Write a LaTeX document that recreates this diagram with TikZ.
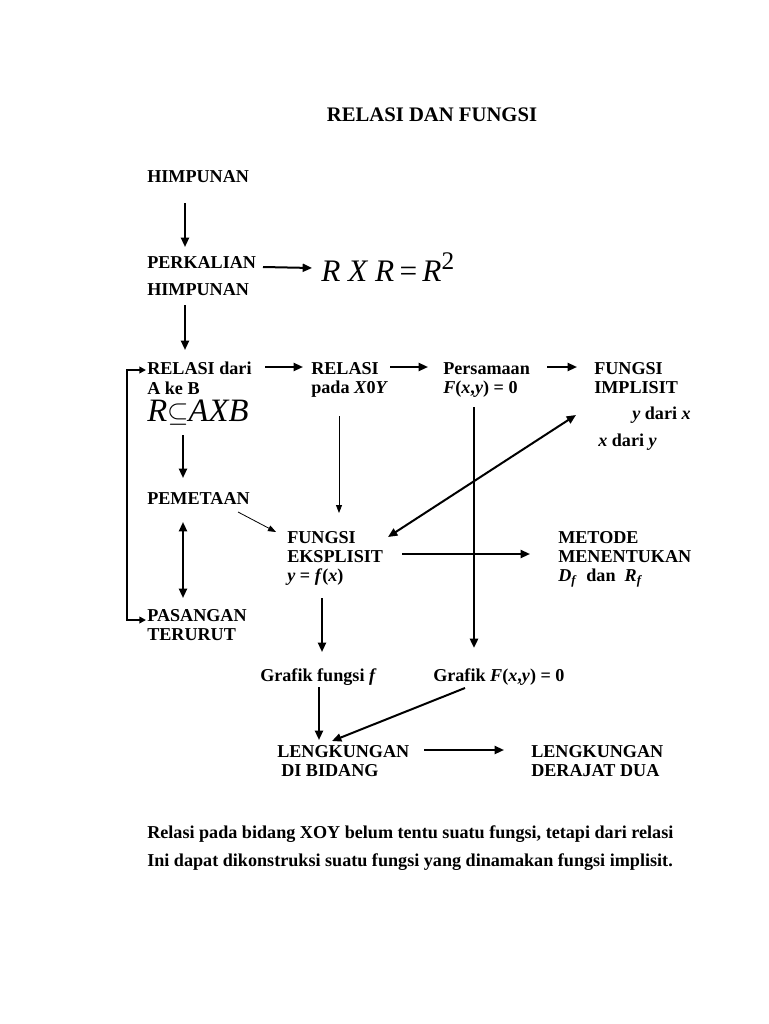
\documentclass[tikz,border=0pt]{standalone}
\usepackage{fontspec}
\setmainfont{Liberation Serif}
\usetikzlibrary{arrows.meta,calc}
\tikzset{
  lbl/.style={anchor=north west, inner sep=0pt, align=left, font=\fontsize{13.6}{14.4}\selectfont\bfseries},
  big/.style={anchor=base west, inner sep=0pt, text height=16pt, text depth=0pt, font=\fontsize{24.5}{24.5}\selectfont\itshape},
  arr/.style={line width=1.5pt, -{Triangle[length=7pt,width=6pt]}},
  thinarr/.style={line width=0.6pt, -{Triangle[length=6pt,width=4.5pt]}}
}
\begin{document}
\begin{tikzpicture}[x=0.75pt,y=-0.75pt]
  \useasboundingbox (0,0) rectangle (768,1024);

    % Title and left column
  \node[lbl, anchor=north, font=\fontsize{15.5}{16}\selectfont\bfseries] (title) at (432,108) {RELASI DAN FUNGSI};
  \node[lbl] (him) at (147,170) {HIMPUNAN};
  \node[lbl, font=\fontsize{13.6}{20.2}\selectfont\bfseries] (perk) at (147,256) {PERKALIAN\\HIMPUNAN};
  \node[big, font=\fontsize{23.5}{23.5}\selectfont\itshape] (rxr) at (321,281) {R X R\,{\upshape =}\,R\raisebox{8.5pt}{\fontsize{19}{19}\selectfont\upshape 2}};
  \node[lbl, text depth=0pt] (rel1) at (147,362) {RELASI dari\\A ke B};
  \node[big] (rsub) at (147,421) {R{\fontsize{20}{20}\selectfont$\subseteq$}AXB};
  \node[lbl] (pem) at (147,492) {PEMETAAN};
  \node[lbl] (pas) at (147,609) {PASANGAN\\TERURUT};

    % Top row
  \node[lbl] (rel2) at (311,362) {RELASI\\pada \textit{X}0\textit{Y}};
  \node[lbl] (pers) at (443,362) {Persamaan\\\textit{F}(\textit{x},\textit{y}) = 0};
  \node[lbl] (impl) at (594,362) {FUNGSI\\IMPLISIT};
  \node[lbl] (ydx) at (632,407) {\textit{y} dari \textit{x}};
  \node[lbl] (xdy) at (598,434) {\textit{x} dari \textit{y}};

    % Middle and bottom
  \node[lbl] (eks) at (287,531) {FUNGSI\\EKSPLISIT\\\textit{y} = \textit{f}(\textit{x})};
  \node[lbl] (met) at (558,531) {METODE\\MENENTUKAN\\\textit{D}\textsubscript{\textit{f}}\ \ dan \ \textit{R}\textsubscript{\textit{f}}};
  \node[lbl] (graf1) at (260,668) {Grafik fungsi \textit{f}};
  \node[lbl] (graf2) at (433,668) {Grafik \textit{F}(\textit{x},\textit{y}) = 0};
  \node[lbl] (leng1) at (277,745) {LENGKUNGAN\\\hspace*{3pt}DI BIDANG};
  \node[lbl] (leng2) at (531,745) {LENGKUNGAN\\DERAJAT DUA};
  \node[lbl, font=\fontsize{13.6}{21}\selectfont\bfseries] (note) at (147,825)
    {Relasi pada bidang XOY belum tentu suatu fungsi, tetapi dari relasi\\Ini dapat dikonstruksi suatu fungsi yang dinamakan fungsi implisit.};

    % Arrows of the left column
  \draw[arr] ($(him.north west)+(38,33)$) -- ($(perk.north west)+(38,-9)$);
  \draw[arr] ($(perk.north west)+(116,11)$) -- ($(rxr.base west)+(-9,-13)$);
  \draw[arr] ($(perk.north west)+(38,49)$) -- ($(rel1.north west)+(38,-12)$);
  \draw[arr] ($(rsub.base west)+(36,14)$) -- ($(pem.north west)+(36,-14)$);
  \draw[arr, {Triangle[length=7pt,width=6pt]}-{Triangle[length=7pt,width=6pt]}] ($(pem.north west)+(36,30)$) -- ($(pas.north west)+(36,-11)$);
  \draw[arr, {Triangle[length=5pt,width=5pt]}-{Triangle[length=5pt,width=5pt]}] ($(pas.north west)+(-1,11)$) -- ++(-19,0) |- ($(rel1.north west)+(-1,8)$);

    % Arrows of the top row
  \draw[arr] ($(rel1.north west)+(118,5)$) -- ($(rel2.north west)+(-8,5)$);
  \draw[arr] ($(rel2.north west)+(79,5)$) -- ($(pers.north west)+(-15,5)$);
  \draw[arr] ($(pers.north west)+(104,5)$) -- ($(impl.north west)+(-17,5)$);

    % Arrows to and from the explicit function
  \draw[thinarr] ($(pem.north west)+(91,20)$) -- ($(eks.north west)+(-11,1)$);
  \draw[thinarr] ($(rel2.north west)+(28,54)$) -- ($(eks.north west)+(52,-18)$);
  \draw[arr, {Triangle[length=7pt,width=6pt]}-{Triangle[length=7pt,width=6pt]}] ($(impl.north west)+(-18,53)$) -- ($(eks.north west)+(101,6)$);
  \draw[arr] ($(eks.north west)+(115,23)$) -- ($(met.north west)+(-28,23)$);
  \draw[arr, line width=1.9pt] ($(pers.north west)+(31,45)$) -- ($(graf2.north west)+(41,-20)$);
  \draw[arr] ($(eks.north west)+(35,67)$) -- ($(graf1.north west)+(62,-16)$);

    % Arrows to the curves
  \draw[arr] ($(graf1.north west)+(59,19)$) -- ($(leng1.north west)+(42,-5)$);
  \draw[arr] ($(graf2.north west)+(32,20)$) -- ($(leng1.north west)+(55,-4)$);
  \draw[arr] ($(leng1.north west)+(147,5)$) -- ($(leng2.north west)+(-27,5)$);
\end{tikzpicture}
\end{document}
